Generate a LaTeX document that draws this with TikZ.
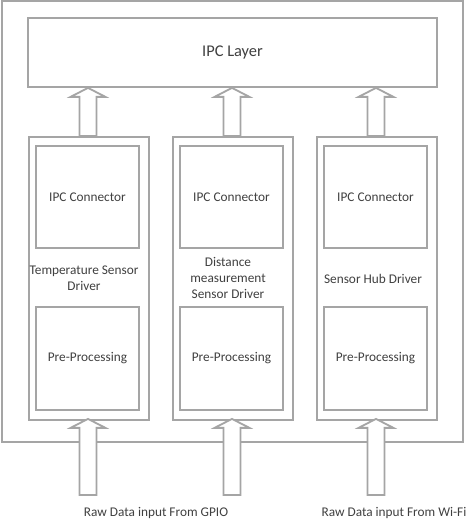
\documentclass[tikz,border=0pt]{standalone}
\usepackage{fontspec}
\setmainfont{Carlito}
\usetikzlibrary{calc}
\definecolor{linegray}{RGB}{165,165,165}
\definecolor{txtgray}{RGB}{64,64,64}
\tikzset{
  box/.style={draw=linegray, line width=1.8pt, fill=white, inner sep=0pt},
  lbl/.style={text=txtgray, font=\fontsize{13.3}{16}\selectfont, align=center},
  blockarrow/.style={draw=linegray, line width=1.8pt, fill=white, line join=miter,
    to path={let \p1=(\tikztostart), \p2=(\tikztotarget) in
      (\x1-8.5pt,\y1) -- (\x1-8.5pt,\y2-9pt) -- (\x1-17.5pt,\y2-9pt) -- (\x1,\y2)
      -- (\x1+17.5pt,\y2-9pt) -- (\x1+8.5pt,\y2-9pt) -- (\x1+8.5pt,\y1) -- cycle}}
}
\begin{document}
\begin{tikzpicture}[x=1pt,y=1pt]
\useasboundingbox (0,0) rectangle (474,527);
% outer frame
\node[box, line width=2.2pt, minimum width=461pt, minimum height=441pt] (frame) at (232.5,305.5) {};
% IPC layer
\node[box, minimum width=409pt, minimum height=69pt, lbl, font=\fontsize{16.4}{19}\selectfont] (ipc) at (232.5,474.5) {IPC Layer};
% drivers
\foreach \i/\cx in {1/89,2/233,3/377}{
  \node[box, minimum width=120pt, minimum height=283pt] (drv\i) at (\cx,248.5) {};
  \node[box, minimum width=103pt, minimum height=102pt, lbl] (con\i) at (\cx-1.5,330) {IPC Connector};
  \node[box, minimum width=103pt, minimum height=103pt, lbl] (pre\i) at (\cx-1.5,168.5) {Pre-Processing};
  \coordinate (in\i) at (\cx-1,32);
}
\node[lbl] (t1) at ($(drv1.center)+(-5,0)$) {Temperature Sensor\\Driver};
\node[lbl] (t2) at ($(drv2.center)+(-5,0.5)$) {Distance\\measurement\\Sensor Driver};
\node[lbl] (t3) at ($(drv3.center)+(-4,0)$) {Sensor Hub Driver};
% arrows up to IPC layer
\foreach \i in {1,2,3}{
  \draw[blockarrow] ($(drv\i.north)+(-1,0)$) to (ipc.south);
  \draw[blockarrow] (in\i) to ($(drv\i.south)+(0,2)$);
}
% input labels
\node[lbl] (raw1) at (156,14) {Raw Data input From GPIO};
\node[lbl] (raw2) at (394,14) {Raw Data input From Wi-Fi};
\end{tikzpicture}
\end{document}
